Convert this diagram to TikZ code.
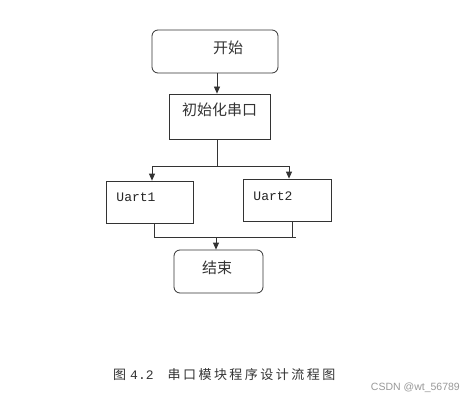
\documentclass[tikz,border=0pt]{standalone}
\usepackage{fontspec}
\setmonofont{Liberation Mono}
\setsansfont{Liberation Sans}
\newfontfamily\cjk{Noto Sans CJK SC}
\newfontfamily\cjkspaced[LetterSpace=19]{Noto Sans CJK SC}
\usetikzlibrary{arrows.meta}

\tikzset{
	flowline/.style={line width=0.8pt, color=black!80},
	flowarrow/.style={flowline, -{Triangle[width=6pt,length=7pt]}},
	termbox/.style={draw, flowline, rounded corners=6pt, inner sep=0pt},
	stepbox/.style={draw, flowline, inner sep=0pt},
	boxtext/.style={inner sep=0pt, font=\cjk\fontsize{15}{17}\selectfont, color=black!80},
	uarttext/.style={inner sep=0pt, font=\ttfamily\fontsize{13}{15}\selectfont, color=black!85},
}

\begin{document}
\begin{tikzpicture}[x=1pt, y=-1pt]
			%%%%% START %%%%%
			\useasboundingbox[fill=white] (0, 0) rectangle (474, 412);
			
			\node[termbox, minimum width=126, minimum height=43] (start) at (215, 51.5) {};
			\node[boxtext] (startText) at (228, 48) {开始};
			
			\node[stepbox, minimum width=101, minimum height=45] (init) at (219.5, 116.5) {};
			\node[boxtext] (initText) at (219.5, 110) {初始化串口};
			
			\node[stepbox, minimum width=87, minimum height=42] (uart1) at (149.5, 202) {};
			\node[uarttext] (uart1Text) at (136, 197) {Uart1};
			
			\node[stepbox, minimum width=88, minimum height=42] (uart2) at (287, 200) {};
			\node[uarttext] (uart2Text) at (273, 196) {Uart2};
			
			\node[termbox, minimum width=89, minimum height=43] (end) at (218.5, 271.5) {};
			\node[boxtext] (endText) at (217, 268) {结束};
			
			\coordinate (spine) at (217, 0);
			\coordinate (forkM) at (217, 166);
			\coordinate (forkL) at (152, 166);
			\coordinate (forkR) at (289, 166);
			\coordinate (joinL) at (154, 237);
			\coordinate (joinR) at (292, 237);
			\coordinate (joinM) at (216, 237);
			\coordinate (joinEnd) at (296, 237);
			
			\draw[flowarrow] (start.south -| spine) -- (init.north -| spine);
			\draw[flowline] (init.south -| forkM) -- (forkM);
			\draw[flowarrow] (forkM) -- (forkL) -- (uart1.north -| forkL);
			\draw[flowarrow] (forkM) -- (forkR) -- (uart2.north -| forkR);
			
			\draw[flowline] (uart1.south -| joinL) -- (joinL) -- (joinEnd);
			\draw[flowline] (uart2.south -| joinR) -- (joinR);
			\draw[flowarrow] (joinM) -- (end.north -| joinM);
			
			% caption and mark
			\node[anchor=west, inner sep=0pt, font=\fontsize{13}{15}\selectfont, color=black!80] (caption) at (113, 375) {\cjk 图\hspace{4pt}\ttfamily 4.2\hspace{14pt}\cjkspaced 串口模块程序设计流程图};
			\node[anchor=east, inner sep=0pt, font=\sffamily\fontsize{10.5}{12}\selectfont, color=black!40] (mark) at (460, 388) {CSDN @wt\_56789};
			
			%%%%% END %%%%%
		\end{tikzpicture}
\end{document}
